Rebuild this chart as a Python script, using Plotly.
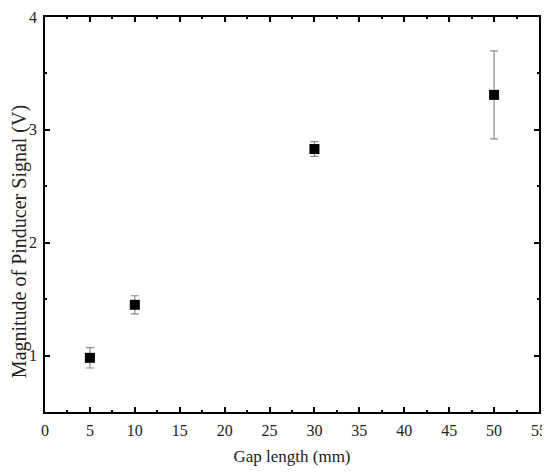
import plotly.graph_objects as go

# values
gap_mm = [5, 10, 30, 50]
signal_v = [0.98, 1.45, 2.83, 3.31]
signal_err = [0.09, 0.08, 0.065, 0.39]

FONT = "Liberation Serif"
TEXT_COLOR = "#222"

fig = go.Figure()
fig.add_trace(
    go.Scatter(
        x=gap_mm,
        y=signal_v,
        mode="markers",
        marker=dict(symbol="square", size=10, color="black"),
        error_y=dict(type="data", array=signal_err, color="#8a8a8a", thickness=1.2, width=4),
        showlegend=False,
    )
)

axis_common = dict(
    showline=True,
    linecolor="black",
    linewidth=1.5,
    mirror="ticks",
    ticks="inside",
    ticklen=5,
    tickwidth=1.5,
    tickcolor="black",
    showgrid=False,
    zeroline=False,
    automargin=False,
    ticklabeloverflow="allow",
    ticklabelstandoff=3,
    tickfont=dict(family=FONT, size=16, color=TEXT_COLOR),
)

fig.update_xaxes(
    range=[0, 55],
    dtick=5,
    tick0=0,
    title=dict(text="Gap length (mm)", font=dict(family=FONT, size=17, color=TEXT_COLOR), standoff=12),
    minor=dict(ticks="inside", ticklen=2.5, tickwidth=1.5, tickcolor="black", dtick=2.5),
    **axis_common,
)
fig.update_yaxes(
    range=[0.5, 4],
    dtick=1,
    tick0=0,
    minor=dict(ticks="inside", ticklen=2.5, tickwidth=1.5, tickcolor="black", dtick=0.5),
    **axis_common,
)

# y title sits a bit below the plot centre in the reference, so place it by hand
fig.add_annotation(
    text="Magnitude of Pinducer Signal (V)",
    xref="paper", yref="paper",
    x=0, y=0.43,
    xanchor="center", yanchor="middle",
    xshift=-26,
    textangle=-90,
    showarrow=False,
    font=dict(family=FONT, size=20, color=TEXT_COLOR),
)

# page body adds ~8px offset, margins compensate for it
# (top kept a little larger so the "4" label is not clipped)
fig.update_layout(
    width=550,
    height=476,
    margin=dict(l=37, r=19, t=9, b=72),
    paper_bgcolor="white",
    plot_bgcolor="white",
    font=dict(family=FONT),
)

fig.write_html("out.html")
